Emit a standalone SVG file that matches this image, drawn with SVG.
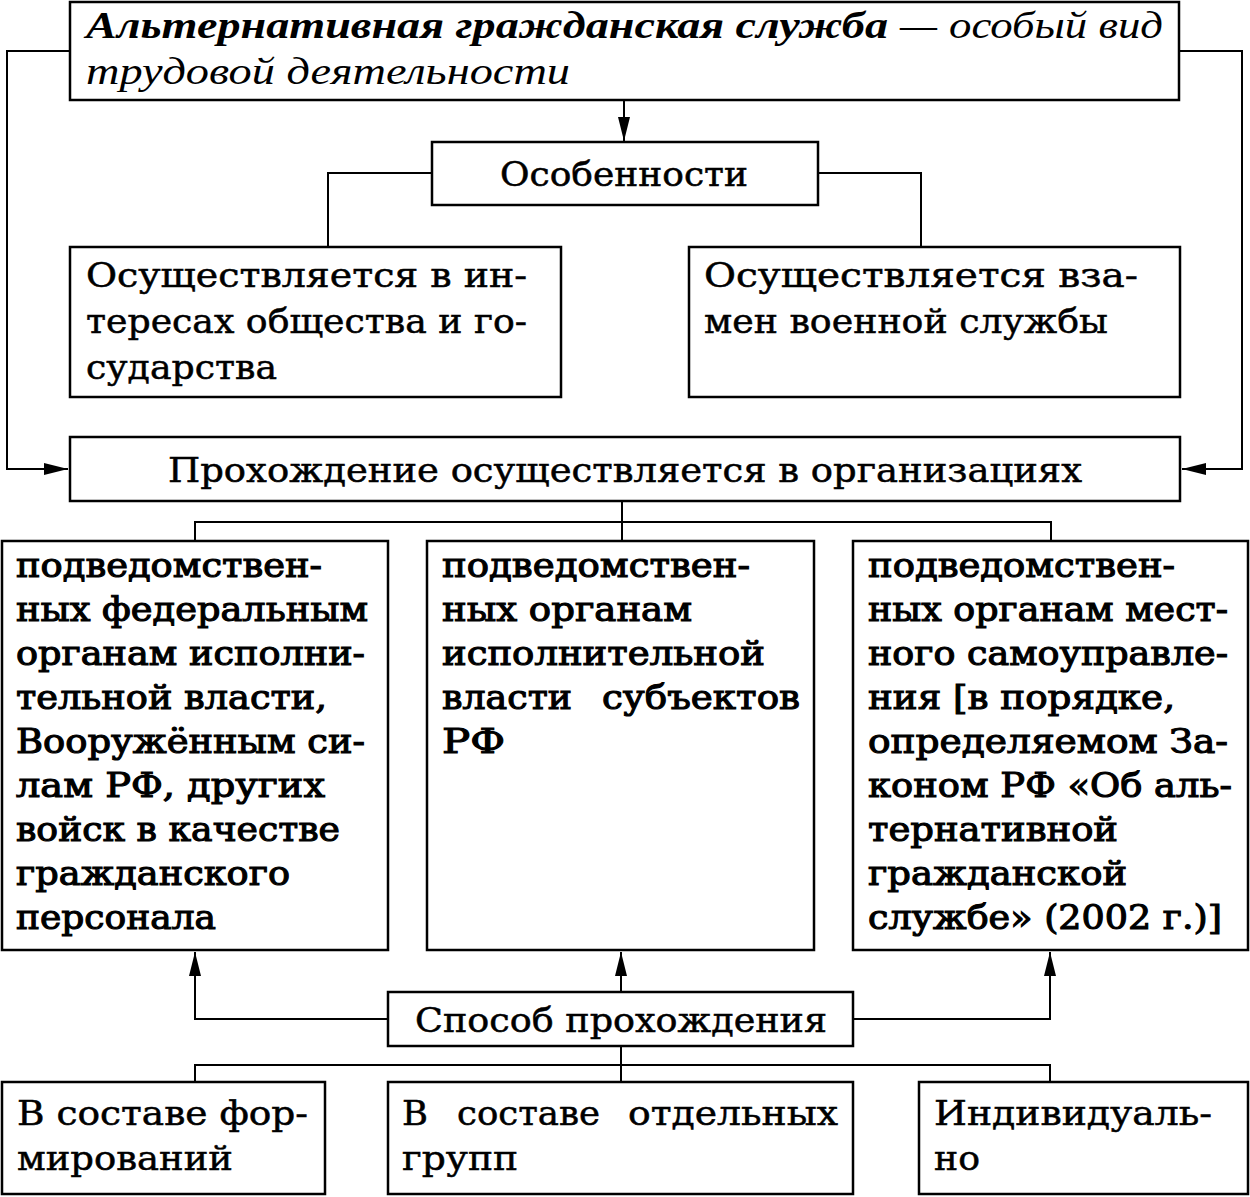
<svg xmlns="http://www.w3.org/2000/svg" width="1250" height="1197" viewBox="0 0 1250 1197">
<style>
.box{fill:#fff;stroke:#000;stroke-width:2.5}
.ln{fill:none;stroke:#000;stroke-width:2}
text{fill:#000}
.t{font-family:"DejaVu Serif","Liberation Serif",serif;font-size:33px;stroke:#000;stroke-width:0.5}
.b{font-family:"DejaVu Serif","Liberation Serif",serif;font-size:33px;stroke:#000;stroke-width:1.1}
.h{font-family:"Liberation Serif","DejaVu Serif",serif;font-size:38px;font-style:italic}
</style>
<defs>
<marker id="ar" markerUnits="userSpaceOnUse" markerWidth="26" markerHeight="12" refX="24" refY="6" orient="auto">
<path d="M0,0 L24,6 L0,12 Z" fill="#000"/>
</marker>
</defs>
<rect width="1250" height="1197" fill="#fff"/>
<g id="connectors">
<path class="ln" d="M70,51 H7 V469 H68" marker-end="url(#ar)"/>
<path class="ln" d="M1180,51 H1242 V469 H1182" marker-end="url(#ar)"/>
<path class="ln" d="M624,100 V141" marker-end="url(#ar)"/>
<path class="ln" d="M432,173 H328 V247"/>
<path class="ln" d="M818,173 H921 V247"/>
<path class="ln" d="M622,501 V541 M195,541 V522 H1051 V541"/>
<path class="ln" d="M388,1019 H195 V952" marker-end="url(#ar)"/>
<path class="ln" d="M621,992 V952" marker-end="url(#ar)"/>
<path class="ln" d="M853,1019 H1050 V952" marker-end="url(#ar)"/>
<path class="ln" d="M621,1046 V1082 M195,1082 V1065 H1050 V1082"/>
</g>
<g id="title">
<rect class="box" x="70" y="2" width="1109" height="98"/>
<text class="h" y="38"><tspan x="86" font-weight="bold" textLength="802" lengthAdjust="spacingAndGlyphs">Альтернативная гражданская служба</tspan><tspan x="900" textLength="37" lengthAdjust="spacingAndGlyphs">—</tspan><tspan x="949" textLength="214" lengthAdjust="spacingAndGlyphs">особый вид</tspan></text>
<text class="h" x="86" y="84" textLength="484" lengthAdjust="spacingAndGlyphs">трудовой деятельности</text>
</g>
<g id="features">
<rect class="box" x="432" y="142" width="386" height="63"/>
<text class="t" x="500" y="186" font-size="35" textLength="248" lengthAdjust="spacingAndGlyphs">Особенности</text>
</g>
<g id="feature-left">
<rect class="box" x="70" y="247" width="491" height="150"/>
<text class="t" x="86" y="287" textLength="441" lengthAdjust="spacingAndGlyphs">Осуществляется в ин-</text>
<text class="t" x="86" y="333" textLength="441" lengthAdjust="spacingAndGlyphs">тересах общества и го-</text>
<text class="t" x="86" y="379" textLength="191" lengthAdjust="spacingAndGlyphs">сударства</text>
</g>
<g id="feature-right">
<rect class="box" x="689" y="247" width="491" height="150"/>
<text class="t" x="704" y="287" textLength="434" lengthAdjust="spacingAndGlyphs">Осуществляется вза-</text>
<text class="t" x="704" y="333" textLength="404" lengthAdjust="spacingAndGlyphs">мен военной службы</text>
</g>
<g id="organizations">
<rect class="box" x="70" y="437" width="1110" height="64"/>
<text class="t" x="168" y="482" textLength="914" lengthAdjust="spacingAndGlyphs">Прохождение осуществляется в организациях</text>
</g>
<g id="org-federal">
<rect class="box" x="2" y="541" width="386" height="409"/>
<text class="b" x="16" y="577" textLength="306" lengthAdjust="spacingAndGlyphs">подведомствен-</text>
<text class="b" x="16" y="621" textLength="352" lengthAdjust="spacingAndGlyphs">ных федеральным</text>
<text class="b" x="16" y="665" textLength="349" lengthAdjust="spacingAndGlyphs">органам исполни-</text>
<text class="b" x="16" y="709" textLength="311" lengthAdjust="spacingAndGlyphs">тельной власти,</text>
<text class="b" x="16" y="753" textLength="349" lengthAdjust="spacingAndGlyphs">Вооружённым си-</text>
<text class="b" x="16" y="797" textLength="309" lengthAdjust="spacingAndGlyphs">лам РФ, других</text>
<text class="b" x="16" y="841" textLength="324" lengthAdjust="spacingAndGlyphs">войск в качестве</text>
<text class="b" x="16" y="885" textLength="274" lengthAdjust="spacingAndGlyphs">гражданского</text>
<text class="b" x="16" y="929" textLength="200" lengthAdjust="spacingAndGlyphs">персонала</text>
</g>
<g id="org-regional">
<rect class="box" x="427" y="541" width="387" height="409"/>
<text class="b" x="442" y="577" textLength="308" lengthAdjust="spacingAndGlyphs">подведомствен-</text>
<text class="b" x="442" y="621" textLength="250" lengthAdjust="spacingAndGlyphs">ных органам</text>
<text class="b" x="442" y="665" textLength="323" lengthAdjust="spacingAndGlyphs">исполнительной</text>
<text class="b" x="442" y="709" textLength="130" lengthAdjust="spacingAndGlyphs">власти</text>
<text class="b" x="602" y="709" textLength="198" lengthAdjust="spacingAndGlyphs">субъектов</text>
<text class="b" x="442" y="753" textLength="63" lengthAdjust="spacingAndGlyphs">РФ</text>
</g>
<g id="org-local">
<rect class="box" x="853" y="541" width="395" height="409"/>
<text class="b" x="868" y="577" textLength="307" lengthAdjust="spacingAndGlyphs">подведомствен-</text>
<text class="b" x="868" y="621" textLength="360" lengthAdjust="spacingAndGlyphs">ных органам мест-</text>
<text class="b" x="868" y="665" textLength="360" lengthAdjust="spacingAndGlyphs">ного самоуправле-</text>
<text class="b" x="868" y="709" textLength="307" lengthAdjust="spacingAndGlyphs">ния [в порядке,</text>
<text class="b" x="868" y="753" textLength="360" lengthAdjust="spacingAndGlyphs">определяемом За-</text>
<text class="b" x="868" y="797" textLength="364" lengthAdjust="spacingAndGlyphs">коном РФ «Об аль-</text>
<text class="b" x="868" y="841" textLength="250" lengthAdjust="spacingAndGlyphs">тернативной</text>
<text class="b" x="868" y="885" textLength="259" lengthAdjust="spacingAndGlyphs">гражданской</text>
<text class="b" x="868" y="929" textLength="354" lengthAdjust="spacingAndGlyphs">службе» (2002 г.)]</text>
</g>
<g id="method">
<rect class="box" x="388" y="992" width="465" height="54"/>
<text class="t" x="415" y="1032" textLength="412" lengthAdjust="spacingAndGlyphs">Способ прохождения</text>
</g>
<g id="method-formations">
<rect class="box" x="2" y="1082" width="323" height="112"/>
<text class="t" x="17" y="1125" textLength="291" lengthAdjust="spacingAndGlyphs">В составе фор-</text>
<text class="t" x="17" y="1170" textLength="216" lengthAdjust="spacingAndGlyphs">мирований</text>
</g>
<g id="method-groups">
<rect class="box" x="388" y="1082" width="465" height="112"/>
<text class="t" x="402" y="1125" textLength="26" lengthAdjust="spacingAndGlyphs">В</text>
<text class="t" x="457" y="1125" textLength="143" lengthAdjust="spacingAndGlyphs">составе</text>
<text class="t" x="628" y="1125" textLength="210" lengthAdjust="spacingAndGlyphs">отдельных</text>
<text class="t" x="402" y="1170" textLength="116" lengthAdjust="spacingAndGlyphs">групп</text>
</g>
<g id="method-individual">
<rect class="box" x="919" y="1082" width="329" height="112"/>
<text class="t" x="934" y="1125" textLength="278" lengthAdjust="spacingAndGlyphs">Индивидуаль-</text>
<text class="t" x="934" y="1170" textLength="46" lengthAdjust="spacingAndGlyphs">но</text>
</g>
</svg>
